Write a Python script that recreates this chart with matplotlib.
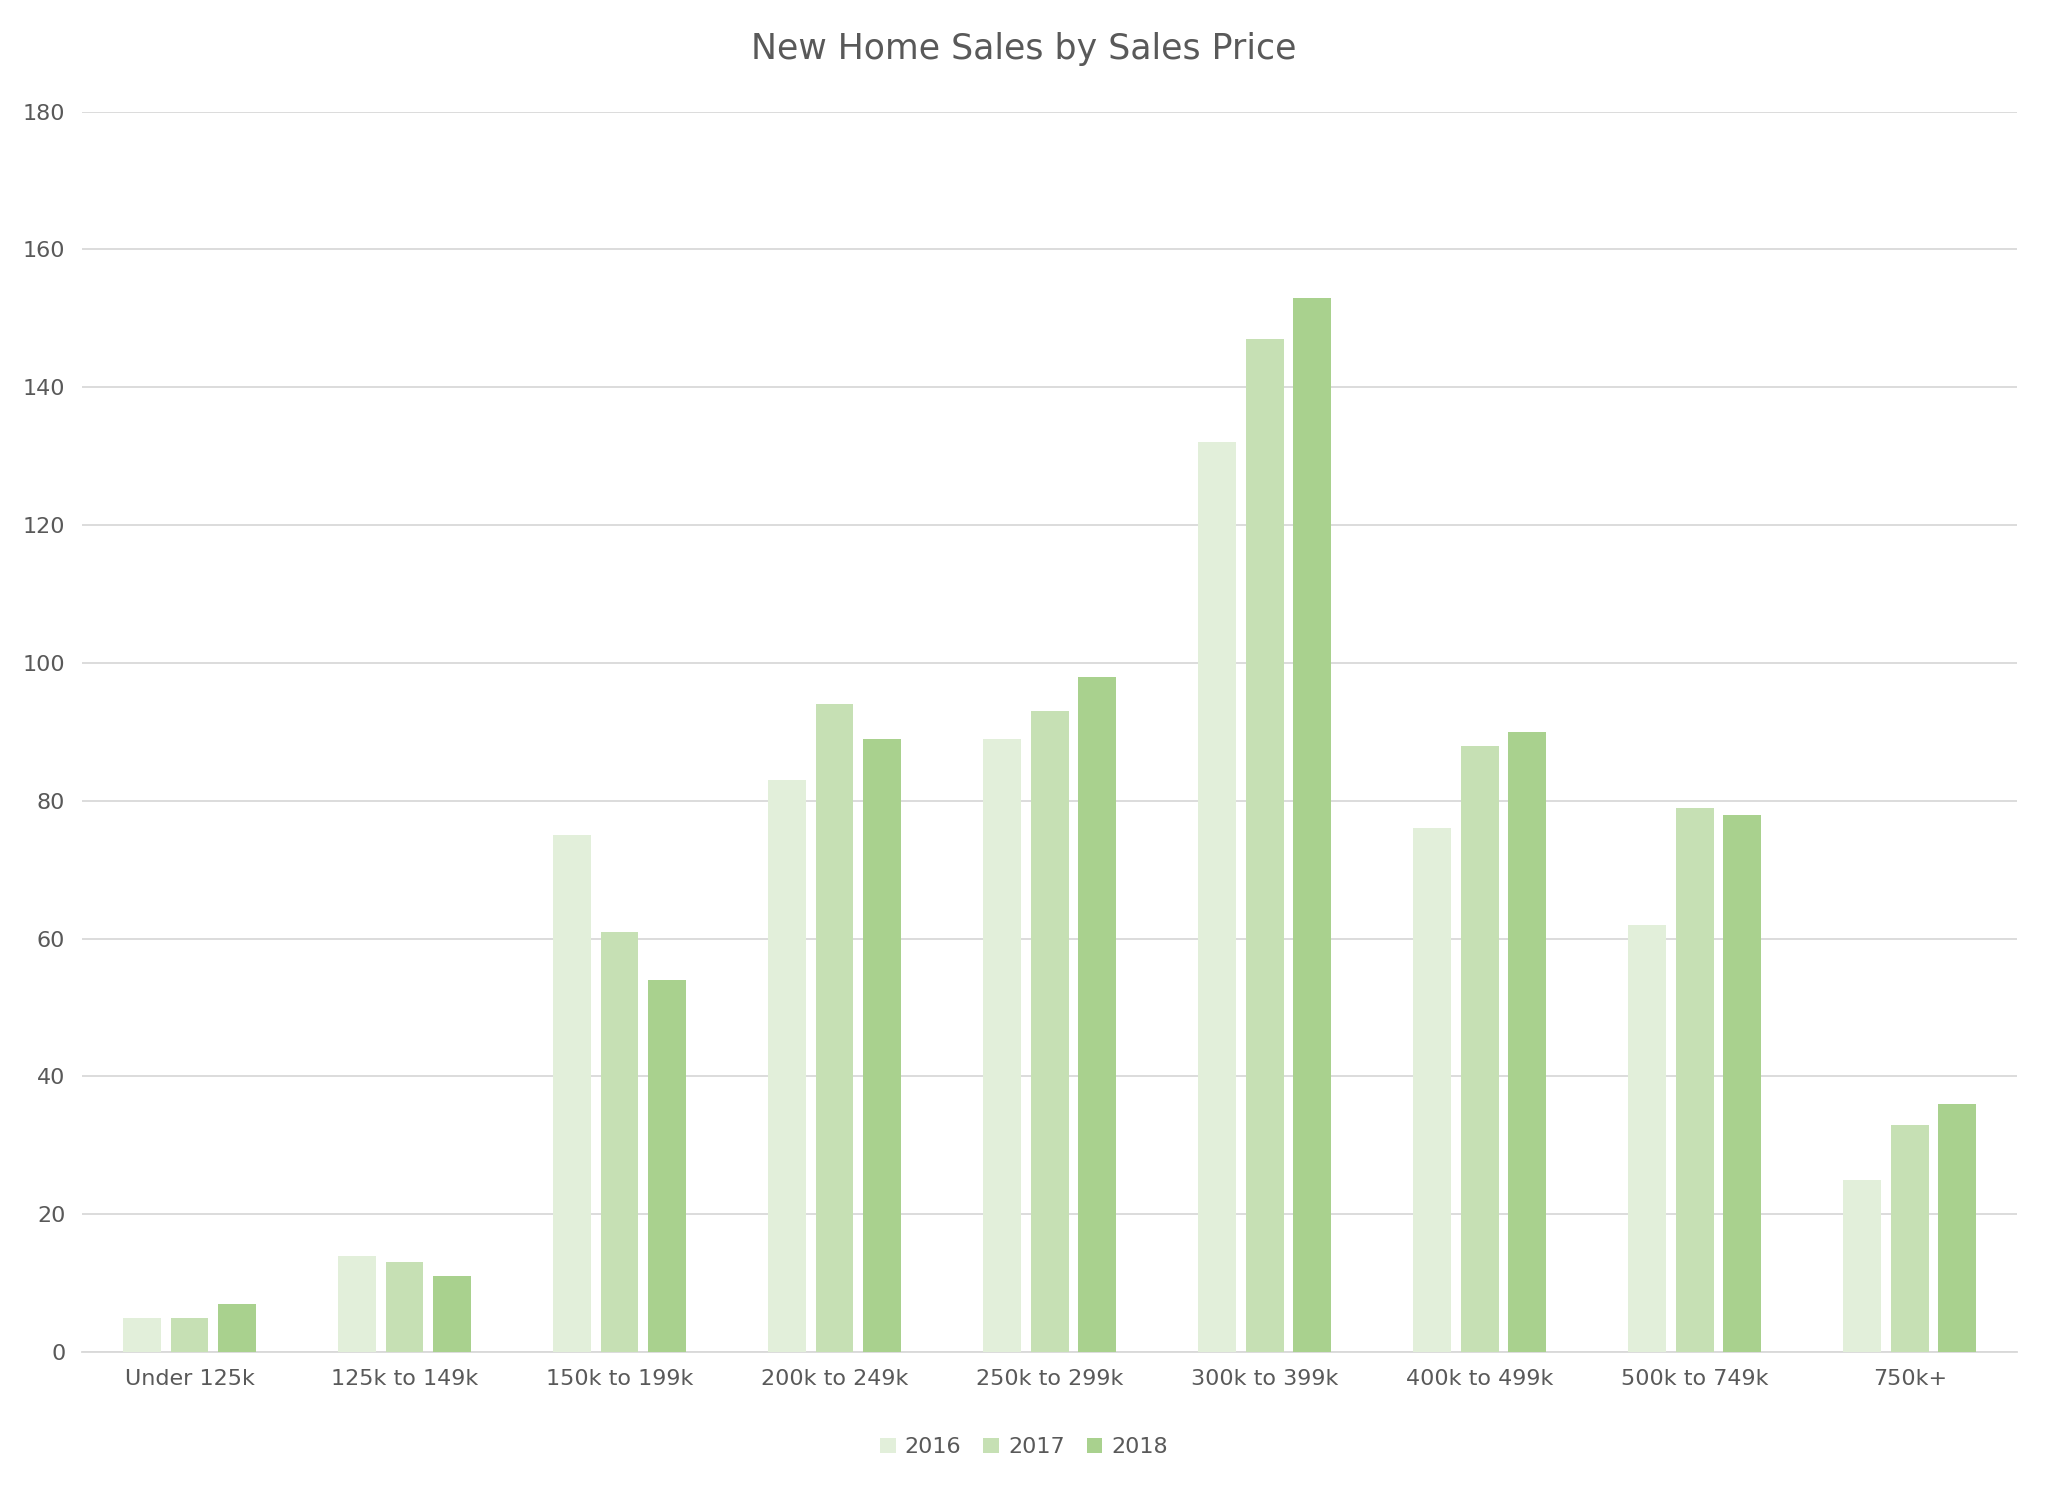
import numpy as np
import matplotlib.pyplot as plt

categories = ["Under 125k", "125k to 149k", "150k to 199k", "200k to 249k", "250k to 299k",
              "300k to 399k", "400k to 499k", "500k to 749k", "750k+"]
years = ["2016", "2017", "2018"]
sales_2016 = [5, 14, 75, 83, 89, 132, 76, 62, 25]
sales_2017 = [5, 13, 61, 94, 93, 147, 88, 79, 33]
sales_2018 = [7, 11, 54, 89, 98, 153, 90, 78, 36]
colors = ["#e2efda", "#c6e0b4", "#a9d18e"]

fig = plt.figure(figsize=(20.48, 14.89), dpi=100)
ax = fig.add_axes([0.040, 0.092, 0.945, 0.833])
x = np.arange(len(categories))
w = 0.176
step = 0.221
for i, (vals, c, yr) in enumerate(zip([sales_2016, sales_2017, sales_2018], colors, years)):
    ax.bar(x + (i - 1) * step, vals, width=w, color=c, label=yr, zorder=3)

ax.set_xlim(-0.5, len(categories) - 0.5)
ax.set_ylim(0, 180)
ax.set_yticks(range(0, 181, 20))
ax.yaxis.grid(True, color="#d9d9d9", linewidth=1.3, zorder=0)
for s in ["top", "right", "left"]:
    ax.spines[s].set_visible(False)
ax.spines["bottom"].set_color("#d9d9d9")
ax.spines["bottom"].set_linewidth(1.3)
ax.tick_params(length=0, labelsize=16, colors="#595959", pad=12)
ax.set_xticks(x)
ax.set_xticklabels(categories)

fig.text(0.5, 0.967, "New Home Sales by Sales Price", ha="center", va="center",
         fontsize=25, color="#595959")
fig.legend(loc="center", bbox_to_anchor=(0.5, 0.028), ncol=3, frameon=False,
           fontsize=16, labelcolor="#595959", handlelength=0.7, handleheight=0.7,
           handletextpad=0.4, columnspacing=1.0)
fig.savefig("out.png", dpi=100)
